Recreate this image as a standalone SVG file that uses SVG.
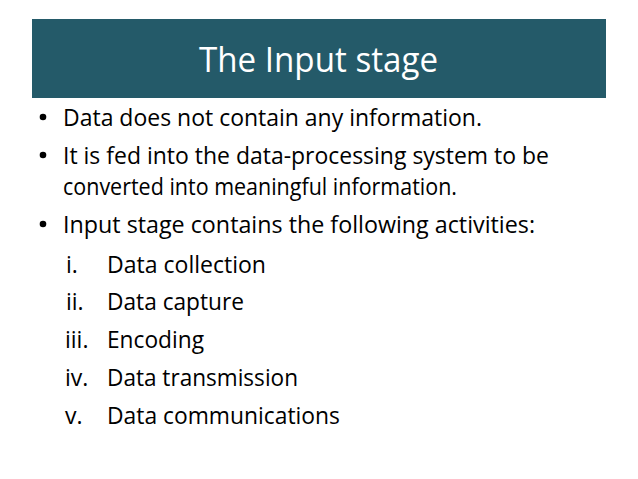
<svg xmlns="http://www.w3.org/2000/svg" width="638" height="479" viewBox="0 0 638 479">
<style>
.t{font-family:"Open Sans","Liberation Sans",sans-serif;fill:#000;}
.b{font-size:23px;}
.h{font-size:35px;fill:#fff;}
.dot{fill:#000;}
</style>
<rect width="638" height="479" fill="#fff"/>
<g id="title">
<rect x="32" y="19" width="574" height="79" fill="#245a69"/>
<text class="t h" x="199" y="72" textLength="239" lengthAdjust="spacingAndGlyphs">The Input stage</text>
</g>
<g id="bullets">
<circle class="dot" cx="43" cy="117" r="3.3"/>
<text class="t b" x="63" y="126" textLength="419" lengthAdjust="spacingAndGlyphs">Data does not contain any information.</text>
<circle class="dot" cx="43" cy="155" r="3.3"/>
<text class="t b" x="63" y="164" textLength="486" lengthAdjust="spacingAndGlyphs">It is fed into the data-processing system to be</text>
<text class="t b" x="63" y="195" textLength="394" lengthAdjust="spacingAndGlyphs">converted into meaningful information.</text>
<circle class="dot" cx="43" cy="224" r="3.3"/>
<text class="t b" x="63" y="233" textLength="472" lengthAdjust="spacingAndGlyphs">Input stage contains the following activities:</text>
</g>
<g id="list">
<text class="t b" x="66" y="273">i.</text>
<text class="t b" x="107" y="273" textLength="159" lengthAdjust="spacingAndGlyphs">Data collection</text>
<text class="t b" x="66" y="310">ii.</text>
<text class="t b" x="107" y="310" textLength="137" lengthAdjust="spacingAndGlyphs">Data capture</text>
<text class="t b" x="65" y="348">iii.</text>
<text class="t b" x="107" y="348" textLength="97" lengthAdjust="spacingAndGlyphs">Encoding</text>
<text class="t b" x="65" y="386">iv.</text>
<text class="t b" x="107" y="386" textLength="191" lengthAdjust="spacingAndGlyphs">Data transmission</text>
<text class="t b" x="65" y="424">v.</text>
<text class="t b" x="107" y="424" textLength="233" lengthAdjust="spacingAndGlyphs">Data communications</text>
</g>
</svg>
